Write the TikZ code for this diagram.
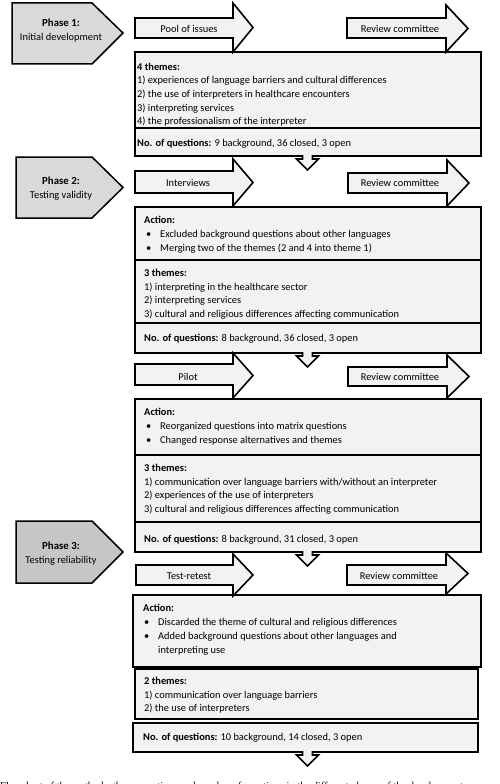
\documentclass[tikz,border=0pt]{standalone}
\usepackage{fontspec}
\setmainfont{Carlito}
\newfontfamily\capfont{Liberation Serif}
\definecolor{boxfill}{HTML}{F2F2F2}
\definecolor{phasefill}{HTML}{D9D9D9}
\definecolor{phasefillb}{HTML}{C6C6C6}
\tikzset{
  sect/.style={draw=black, line width=1.5pt, fill=boxfill},
  sectb/.style={draw=black, line width=2pt, fill=boxfill},
  barrow/.style={draw=black, line width=1.6pt, fill=boxfill, line join=miter},
  phase/.style={draw=black, line width=1.5pt, fill=phasefill, line join=miter},
  phaseb/.style={draw=black, line width=1.5pt, fill=phasefillb, line join=miter},
  ln/.style={anchor=base west, inner sep=0pt, font=\fontsize{10.4}{12}\selectfont},
  cln/.style={anchor=base, inner sep=0pt, font=\fontsize{10.4}{12}\selectfont},
  ptitle/.style={anchor=base, inner sep=0pt, font=\fontsize{10.8}{12}\selectfont\bfseries},
  psub/.style={anchor=base, inner sep=0pt, font=\fontsize{10.4}{12}\selectfont},
  downa/.style={draw=black, line width=1.6pt, fill=boxfill, line join=miter},
  captxt/.style={anchor=base west, inner sep=0pt, font=\capfont\fontsize{10.5}{12}\selectfont},
}
\newcommand{\blockarr}[7]{%
  \draw[barrow] (#1,#4) -- (#2,#4) -- (#2,#6) -- (#3,{(#6+#7)/2}) -- (#2,#7) -- (#2,#5) -- (#1,#5) -- cycle;}
\newcommand{\downarr}[1]{%
  \fill[boxfill] (302.5,{#1-0.9}) -- (302.5,{#1+3}) -- (296.5,{#1+3}) -- (307.5,{#1+14}) -- (318.5,{#1+3}) -- (312.5,{#1+3}) -- (312.5,{#1-0.9}) -- cycle;
  \draw[downa, fill=none] (302.5,{#1-0.9}) -- (302.5,{#1+3}) -- (296.5,{#1+3}) -- (307.5,{#1+14}) -- (318.5,{#1+3}) -- (312.5,{#1+3}) -- (312.5,{#1-0.9});}
\begin{document}
\begin{tikzpicture}[x=1pt,y=-1pt]
\useasboundingbox (0,0) rectangle (500,784);
\clip (0,0) rectangle (500,784);

% ---------- Phase 1 ----------
\draw[phase] (12,3) -- (92,3) -- (123,33) -- (92,64) -- (12,64) -- cycle;
\node[ptitle] (p1a) at (61,27) {Phase 1:};
\node[psub] (p1b) at (61,40.5) {Initial development};

\draw[sect] (135,52) rectangle (481,128);
\node[ln] (b1h) at (137,70.5) {\bfseries 4 themes:};
\node[ln] (b1l1) at (137,84) {1) experiences of language barriers and cultural differences};
\node[ln] (b1l2) at (137,97.5) {2) the use of interpreters in healthcare encounters};
\node[ln] (b1l3) at (137,111) {3) interpreting services};
\node[ln] (b1l4) at (137,124.5) {4) the professionalism of the interpreter};
\draw[sect] (135,128) rectangle (481,156);
\node[ln] (b1q) at (137,146) {\textbf{No. of questions:} 9 background, 36 closed, 3 open};

\blockarr{135}{233}{253}{18}{38}{3}{52}
\node[cln] (a1) at (189,32.5) {Pool of issues};
\blockarr{347}{446}{468}{18}{38}{5}{52}
\node[cln] (r1) at (400,33) {Review committee};
\downarr{156}

% ---------- Phase 2 ----------
\draw[phase] (16,157) -- (92,157) -- (123,187.5) -- (92,218) -- (16,218) -- cycle;
\node[ptitle] (p2a) at (61,184) {Phase 2:};
\node[psub] (p2b) at (61,198.5) {Testing validity};

\draw[sect] (135,207) rectangle (481,260);
\node[ln] (b2h) at (144,223.5) {\bfseries Action:};
\node[ln] (b2d1) at (146,237.5) {\textbullet};
\node[ln] (b2l1) at (160,237.5) {Excluded background questions about other languages};
\node[ln] (b2d2) at (146,251.5) {\textbullet};
\node[ln] (b2l2) at (160,251.5) {Merging two of the themes (2 and 4 into theme 1)};
\draw[sect] (135,260) rectangle (481,323);
\node[ln] (b2t) at (144,276.5) {\bfseries 3 themes:};
\node[ln] (b2t1) at (144,290) {1) interpreting in the healthcare sector};
\node[ln] (b2t2) at (144,303.5) {2) interpreting services};
\node[ln] (b2t3) at (144,317) {3) cultural and religious differences affecting communication};
\draw[sect] (135,323) rectangle (481,353);
\node[ln] (b2q) at (144,341.5) {\textbf{No. of questions:} 8 background, 36 closed, 3 open};

\blockarr{135}{233}{253}{171}{193}{159}{206}
\node[cln] (a2) at (188,186.5) {Interviews};
\blockarr{348}{447}{469}{173}{193}{160}{206}
\node[cln] (r2) at (400,186.5) {Review committee};
\downarr{353}

% ---------- Pilot ----------
\draw[sect] (135,399) rectangle (481,455);
\node[ln] (b3h) at (144,415.5) {\bfseries Action:};
\node[ln] (b3d1) at (146,429.5) {\textbullet};
\node[ln] (b3l1) at (160,429.5) {Reorganized questions into matrix questions};
\node[ln] (b3d2) at (146,443.5) {\textbullet};
\node[ln] (b3l2) at (160,443.5) {Changed response alternatives and themes};
\draw[sect] (135,455) rectangle (481,522);
\node[ln] (b3t) at (144,471.5) {\bfseries 3 themes:};
\node[ln] (b3t1) at (144,485) {1) communication over language barriers with/without an interpreter};
\node[ln] (b3t2) at (144,498.5) {2) experiences of the use of interpreters};
\node[ln] (b3t3) at (144,512) {3) cultural and religious differences affecting communication};
\draw[sect] (135,522) rectangle (481,552);
\node[ln] (b3q) at (144,542) {\textbf{No. of questions:} 8 background, 31 closed, 3 open};

\blockarr{135}{233}{253}{364}{385}{353}{398}
\node[cln] (a3) at (188,380.5) {Pilot};
\blockarr{348}{447}{469}{367}{386}{355}{398}
\node[cln] (r3) at (400,380.5) {Review committee};
\downarr{552}

% ---------- Phase 3 ----------
\draw[phaseb] (16,521) -- (92,521) -- (123,552) -- (92,583) -- (16,583) -- cycle;
\node[ptitle] (p3a) at (61,549) {Phase 3:};
\node[psub] (p3b) at (61,563.5) {Testing reliability};

\draw[sectb] (133,595) rectangle (481,667);
\node[ln] (b4h) at (143,611.5) {\bfseries Action:};
\node[ln] (b4d1) at (144,625.5) {\textbullet};
\node[ln] (b4l1) at (158,625.5) {Discarded the theme of cultural and religious differences};
\node[ln] (b4d2) at (144,639.5) {\textbullet};
\node[ln] (b4l2) at (158,639.5) {Added background questions about other languages and};
\node[ln] (b4l3) at (158,653.5) {interpreting use};
\draw[sectb] (135,669) rectangle (478,719);
\node[ln] (b4t) at (144,684.5) {\bfseries 2 themes:};
\node[ln] (b4t1) at (144,698.5) {1) communication over language barriers};
\node[ln] (b4t2) at (144,711.5) {2) the use of interpreters};
\draw[sectb] (133,723) rectangle (478,752);
\node[ln] (b4q) at (143,740.5) {\textbf{No. of questions:} 10 background, 14 closed, 3 open};

\blockarr{136}{233}{253}{565}{585}{554}{596}
\node[cln] (a4) at (189,579.5) {Test-retest};
\blockarr{347}{446}{468}{565}{585}{553}{594}
\node[cln] (r4) at (399,579.5) {Review committee};
\downarr{752}

% ---------- caption (cut by the page edge, as in the reference) ----------
\node[captxt] (cap) at (0,789) {Flowchart of the methods, themes, actions and number of questions in the different phases of the development process.};
\end{tikzpicture}
\end{document}
